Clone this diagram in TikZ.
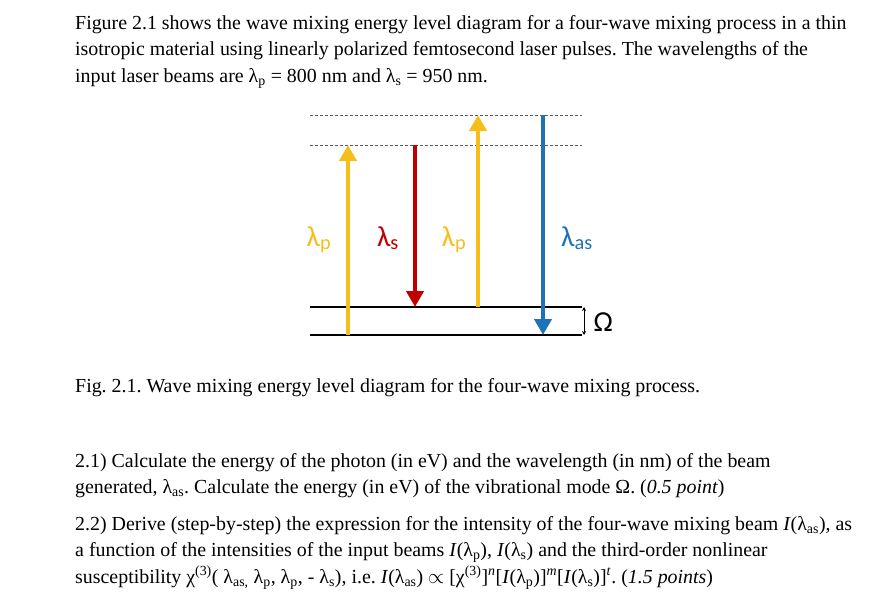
\documentclass[tikz,border=0pt]{standalone}
\usepackage{fontspec}
\setmainfont{Liberation Serif}
\newfontfamily\lblfont{Carlito}
\usetikzlibrary{arrows.meta}
\definecolor{pyel}{HTML}{F6BE1C}
\definecolor{pred}{HTML}{C00000}
\definecolor{pblue}{HTML}{1F72B8}
\newcommand{\li}{\textit{I}}
\tikzset{
  txt/.style={anchor=base west,inner sep=0pt,font=\fontsize{19.9}{22}\selectfont},
  lvl/.style={line width=1.8pt},
  vlvl/.style={densely dashed,line width=0.5pt,gray!70!black},
  beam/.style={line width=4.5pt,-{Triangle[width=17pt,length=16pt]}},
  lbl/.style={font=\lblfont\fontsize{29}{32}\selectfont,anchor=base},
}
\begin{document}
\frenchspacing
\begin{tikzpicture}[x=1pt,y=-1pt]
\useasboundingbox (0,0) rectangle (893,594);
\node[txt] (t1) at (75,30) {Figure 2.1 shows the wave mixing energy level diagram for a four-wave mixing process in a thin};
\node[txt] (t2) at (75,56) {isotropic material using linearly polarized femtosecond laser pulses. The wavelengths of the};
\node[txt] (t3) at (75,82) {input laser beams are λ\textsubscript{p} = 800 nm and λ\textsubscript{s} = 950 nm.};
% levels
\coordinate (v1a) at (310,115); \coordinate (v1b) at (582,115);
\coordinate (v2a) at (310,145); \coordinate (v2b) at (582,145);
\coordinate (g1a) at (310,307); \coordinate (g1b) at (582,307);
\coordinate (g0a) at (310,335); \coordinate (g0b) at (582,335);
\draw[vlvl] (v1a) -- (v1b);
\draw[vlvl] (v2a) -- (v2b);
\draw[lvl,line width=1.3pt] (g1a) -- (g1b);
\draw[lvl] (g0a) -- (g0b);
% beams
\coordinate (a1s) at (348,335); \coordinate (a1e) at (348,145);
\coordinate (a2s) at (415,145); \coordinate (a2e) at (415,307);
\coordinate (a3s) at (478,307); \coordinate (a3e) at (478,115);
\coordinate (a4s) at (543,115); \coordinate (a4e) at (543,335);
\draw[beam,pyel] (a1s) -- (a1e);
\draw[beam,pred] (a2s) -- (a2e);
\draw[beam,pyel] (a3s) -- (a3e);
\draw[beam,pblue] (a4s) -- (a4e);
\node[lbl,pyel] (l1) at (319,246) {λ\textsubscript{p}};
\node[lbl,pred] (l2) at (388,246) {λ\textsubscript{s}};
\node[lbl,pyel] (l3) at (454,246) {λ\textsubscript{p}};
\node[lbl,pblue] (l4) at (577,246) {λ\textsubscript{as}};
\coordinate (o1) at (584,307); \coordinate (o2) at (584,335);
\draw[{Stealth[length=4pt,width=4pt]}-{Stealth[length=4pt,width=4pt]},line width=0.6pt] (o1) -- (o2);
\node[anchor=west,font=\lblfont\fontsize{29}{32}\selectfont] (om) at (590,322) {Ω};
\node[txt] (cap) at (75,392) {Fig. 2.1. Wave mixing energy level diagram for the four-wave mixing process.};
\node[txt] (q1a) at (75,467) {2.1) Calculate the energy of the photon (in eV) and the wavelength (in nm) of the beam};
\node[txt] (q1b) at (75,493) {generated, λ\textsubscript{as}. Calculate the energy (in eV) of the vibrational mode Ω. (\textit{0.5 point})};
\node[txt] (q2a) at (75,530) {2.2) Derive (step-by-step) the expression for the intensity of the four-wave mixing beam \li(λ\textsubscript{as}), as};
\node[txt] (q2b) at (75,556) {a function of the intensities of the input beams \li(λ\textsubscript{p}), \li(λ\textsubscript{s}) and the third-order nonlinear};
\node[txt] (q2c) at (75,583) {susceptibility χ\textsuperscript{(3)}( λ\textsubscript{as,} λ\textsubscript{p}, λ\textsubscript{p}, - λ\textsubscript{s}), i.e. \li(λ\textsubscript{as}) $\propto$ [χ\textsuperscript{(3)}]\textsuperscript{\textit{n}}[\li(λ\textsubscript{p})]\textsuperscript{\textit{m}}[\li(λ\textsubscript{s})]\textsuperscript{\textit{t}}. (\textit{1.5 points})};
\end{tikzpicture}
\end{document}
